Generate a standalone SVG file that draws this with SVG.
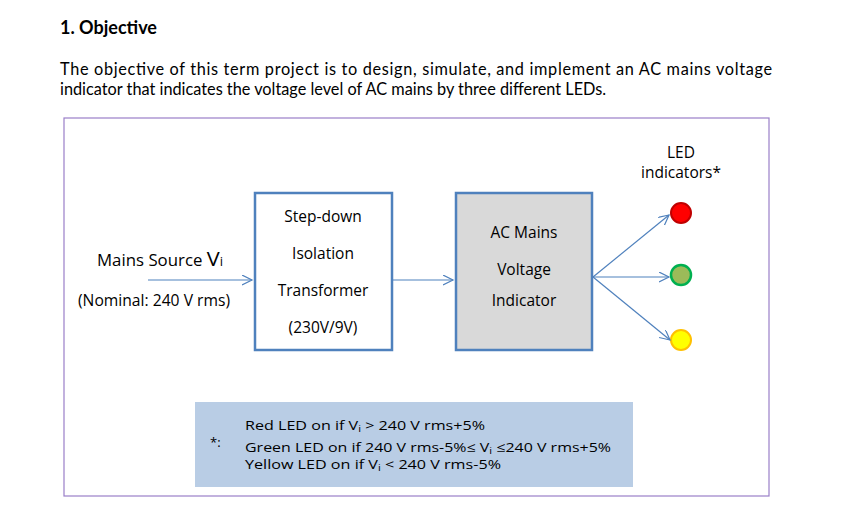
<svg xmlns="http://www.w3.org/2000/svg" width="846" height="532" viewBox="0 0 846 532">
<style>
text{font-family:"Open Sans","Liberation Sans",sans-serif;fill:#000}
.p{font-size:16.3px;font-family:Lato,"Open Sans",sans-serif}
.d{font-size:15.5px}
.n{font-size:13px}
.c{stroke:#4f81bd;stroke-width:1.2;fill:none}
</style>
<defs><marker id="a" markerWidth="12" markerHeight="12" refX="10" refY="5" orient="auto" markerUnits="userSpaceOnUse"><path d="M0,0 L10,5 L0,10" fill="none" stroke="#4f81bd" stroke-width="1.2"/></marker></defs>
<rect width="846" height="532" fill="#fff"/>
<text x="60" y="34" style="font-size:18px;font-weight:bold;font-family:Lato,sans-serif">1. Objective</text>
<text class="p" x="60" y="75" textLength="712" lengthAdjust="spacing">The objective of this term project is to design, simulate, and implement an AC mains voltage</text>
<text class="p" x="60" y="95">indicator that indicates the voltage level of AC mains by three different LEDs.</text>
<rect x="64" y="118" width="705" height="378" fill="none" stroke="#9a7fc9" stroke-width="1.2"/>
<g id="source"><text class="d" x="97" y="266" textLength="126" lengthAdjust="spacingAndGlyphs">Mains Source <tspan style="font-size:20px">V</tspan><tspan style="font-size:12px">i</tspan></text>
<text class="d" x="78" y="306" textLength="152" lengthAdjust="spacingAndGlyphs">(Nominal: 240 V rms)</text></g>
<g id="transformer"><rect x="255" y="193" width="137" height="157" fill="#fff" stroke="#4f81bd" stroke-width="2.5"/>
<g class="d" text-anchor="middle"><text x="323" y="222">Step-down</text><text x="323" y="259">Isolation</text><text x="323" y="296">Transformer</text><text x="323" y="333">(230V/9V)</text></g></g>
<g id="indicator"><rect x="456" y="193" width="136" height="157" fill="#d9d9d9" stroke="#4f81bd" stroke-width="2.5"/>
<g class="d" text-anchor="middle"><text x="524" y="238">AC Mains</text><text x="524" y="275">Voltage</text><text x="524" y="306">Indicator</text></g></g>
<g id="leds"><text class="d" x="681" y="158" text-anchor="middle">LED</text><text class="d" x="681" y="178" text-anchor="middle">indicators*</text>
<circle cx="681" cy="213" r="10" fill="#ff0000" stroke="#c00000" stroke-width="2"/>
<circle cx="681" cy="275" r="10" fill="#9bbb59" stroke="#00b050" stroke-width="2.5"/>
<circle cx="681" cy="340" r="10" fill="#ffff00" stroke="#ffc000" stroke-width="2"/></g>
<g id="connectors">
<line class="c" x1="148" y1="280" x2="252" y2="280" marker-end="url(#a)"/>
<line class="c" x1="393" y1="280" x2="453" y2="280" marker-end="url(#a)"/>
<line class="c" x1="593" y1="277" x2="669" y2="215" marker-end="url(#a)"/>
<line class="c" x1="593" y1="277" x2="669" y2="277" marker-end="url(#a)"/>
<line class="c" x1="593" y1="277" x2="670" y2="340" marker-end="url(#a)"/>
</g>
<g id="note"><rect x="195" y="402" width="438" height="85" fill="#b9cde5"/>
<text class="n" x="210" y="447">*:</text>
<text class="n" x="245" y="430" textLength="240" lengthAdjust="spacingAndGlyphs">Red LED on if V<tspan font-size="9" dy="2">i</tspan><tspan dy="-2"> &gt; 240 V rms+5%</tspan></text>
<text class="n" x="245" y="452" textLength="366" lengthAdjust="spacingAndGlyphs">Green LED on if 240 V rms-5%≤ V<tspan font-size="9" dy="2">i</tspan><tspan dy="-2"> ≤240 V rms+5%</tspan></text>
<text class="n" x="245" y="469" textLength="256" lengthAdjust="spacingAndGlyphs">Yellow LED on if V<tspan font-size="9" dy="2">i</tspan><tspan dy="-2"> &lt; 240 V rms-5%</tspan></text></g>
</svg>
